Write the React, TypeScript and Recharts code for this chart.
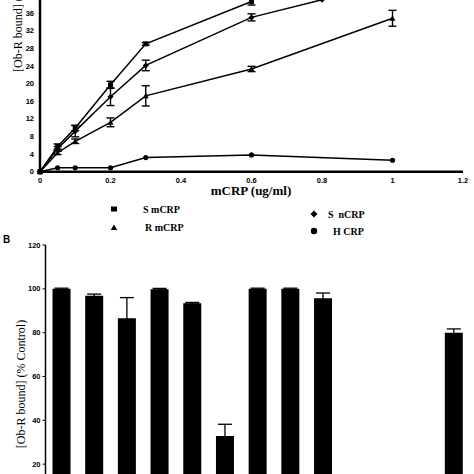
import React from "react";
import { LineChart, Line, XAxis, YAxis, ErrorBar, BarChart, Bar } from "recharts";

// panel A - Ob-R bound vs mCRP dose
const doseSM = [0, 0.05, 0.1, 0.2, 0.3, 0.6];
const boundSM = [0, 5.7, 9.9, 19.7, 29.0, 38.6];
const errSM = [0, 0.6, 0.6, 0.8, 0.3, 0.8];

const doseSN = [0, 0.05, 0.1, 0.2, 0.3, 0.6, 0.8];
const boundSN = [0, 5.2, 9.2, 17.0, 24.1, 35.0, 39.0];
const errSN = [0, 0.5, 1.3, 2.0, 1.2, 0.8, 0];

const doseRM = [0, 0.05, 0.1, 0.2, 0.3, 0.6, 1];
const boundRM = [0, 4.3, 6.9, 11.2, 17.2, 23.3, 34.8];
const errRM = [0, 0.4, 0.5, 1.0, 2.3, 0.6, 1.8];

const doseH = [0, 0.05, 0.1, 0.2, 0.3, 0.6, 1];
const boundH = [0, 0.9, 0.9, 0.9, 3.2, 3.8, 2.6];

const xTicksA = [0, 0.2, 0.4, 0.6, 0.8, 1, 1.2];
const yTicksA = [0, 4, 8, 12, 16, 20, 24, 28, 32, 36, 40, 44];

// panel B - % control
const groups = ["1", "2", "3", "4", "5", "6", "7", "8", "9", "10", "11", "12", "13"];
const pctControl = [100, 96.9, 86.6, 99.8, 93.4, 32.9, 100, 100, 95.7, 0, 0, 0, 80];
const pctErr = [0.3, 0.7, 9.4, 0.4, 0.4, 5.3, 0.3, 0.3, 2.4, 0, 0, 0, 1.7];
const yTicksB = [0, 20, 40, 60, 80, 100, 120];

const rows = (xs: number[], ys: number[], es?: number[]) =>
  xs.map((x, i) => ({ x, y: ys[i], e: es ? es[i] : 0 }));

const barRows = groups.map((g, i) => ({ group: g, pct: pctControl[i], err: pctErr[i] }));

const tickFont = {
  fontFamily: "Liberation Sans, Arial, sans-serif",
  fontSize: 7.5,
  fontWeight: "bold",
  fill: "#000",
};

const serif = "Liberation Serif, Times New Roman, serif";

const Square = (p: any) => (
  <rect key={`s${p.index}`} x={p.cx - 2.5} y={p.cy - 2.5} width={5} height={5} fill="#000" />
);
const Diamond = (p: any) => (
  <polygon
    key={`d${p.index}`}
    points={`${p.cx},${p.cy - 3} ${p.cx + 3},${p.cy} ${p.cx},${p.cy + 3} ${p.cx - 3},${p.cy}`}
    fill="#000"
  />
);
const Triangle = (p: any) => (
  <polygon
    key={`t${p.index}`}
    points={`${p.cx},${p.cy - 3} ${p.cx + 3},${p.cy + 2.5} ${p.cx - 3},${p.cy + 2.5}`}
    fill="#000"
  />
);
const Circle = (p: any) => <circle key={`c${p.index}`} cx={p.cx} cy={p.cy} r={2.6} fill="#000" />;

function PanelA() {
  return (
    <LineChart width={474} height={240} margin={{ top: 7.7, right: 11, left: 10, bottom: 8.3 }}>
      <XAxis
        type="number"
        dataKey="x"
        domain={[0, 1.2]}
        ticks={xTicksA}
        tickLine={false}
        tickSize={4}
        tickMargin={2}
        height={30}
        tick={tickFont}
        axisLine={{ stroke: "#000", strokeWidth: 2.5 }}
        label={{
          content: () => (
            <text x={251} y={224.5} textAnchor="middle" fontFamily={serif} fontSize={13} fontWeight="bold" fill="#000">
              mCRP (ug/ml)
            </text>
          ),
        }}
      />
      <YAxis
        type="number"
        domain={[0, 44]}
        ticks={yTicksA}
        width={30}
        tickLine={false}
        tickSize={4}
        tickMargin={2}
        tick={tickFont}
        axisLine={{ stroke: "#000", strokeWidth: 2.5 }}
        label={{
          content: () => (
            <text x={22} y={102} transform="rotate(-90 22 102)" fontFamily={serif} fontSize={12} fill="#000">
              [Ob-R bound] (fmol)
            </text>
          ),
        }}
      />
      <Line data={rows(doseSM, boundSM, errSM)} dataKey="y" stroke="#000" strokeWidth={1.5} dot={Square} isAnimationActive={false}>
        <ErrorBar dataKey="e" direction="y" width={4} stroke="#000" strokeWidth={1.4} />
      </Line>
      <Line data={rows(doseSN, boundSN, errSN)} dataKey="y" stroke="#000" strokeWidth={1.5} dot={Diamond} isAnimationActive={false}>
        <ErrorBar dataKey="e" direction="y" width={4} stroke="#000" strokeWidth={1.4} />
      </Line>
      <Line data={rows(doseRM, boundRM, errRM)} dataKey="y" stroke="#000" strokeWidth={1.5} dot={Triangle} isAnimationActive={false}>
        <ErrorBar dataKey="e" direction="y" width={4} stroke="#000" strokeWidth={1.4} />
      </Line>
      <Line data={rows(doseH, boundH)} dataKey="y" stroke="#000" strokeWidth={1.5} dot={Circle} isAnimationActive={false} />
    </LineChart>
  );
}

function LegendA() {
  const txt = { fontFamily: serif, fontSize: 10, fontWeight: "bold" as const, fill: "#000" };
  return (
    <svg width={474} height={474} style={{ position: "absolute", top: 0, left: 0, pointerEvents: "none" }}>
      <rect x={111} y={206.5} width={6} height={5} fill="#000" />
      <text x={143} y={213} {...txt}>S mCRP</text>
      <polygon points="114,224.5 117.3,230 110.7,230" fill="#000" />
      <text x={145} y={231} {...txt}>R mCRP</text>
      <polygon points="314,210.5 317.5,214 314,217.5 310.5,214" fill="#000" />
      <text x={328} y={217.5} {...txt} style={{ whiteSpace: "pre" }}>S  nCRP</text>
      <circle cx={314} cy={231} r={3.2} fill="#000" />
      <text x={333} y={234.5} {...txt}>H CRP</text>
      <text x={3} y={243} fontFamily="Liberation Sans, Arial, sans-serif" fontSize={10} fontWeight="bold" fill="#000">
        B
      </text>
    </svg>
  );
}

function PanelB() {
  return (
    <BarChart width={474} height={300} data={barRows} margin={{ top: 5, right: 3.5, left: 5.5, bottom: 32 }}>
      <XAxis dataKey="group" hide />
      <YAxis
        type="number"
        domain={[0, 120]}
        ticks={yTicksB}
        width={40}
        tickSize={3}
        tickMargin={2}
        tick={tickFont}
        tickLine={{ stroke: "#000", strokeWidth: 1 }}
        axisLine={{ stroke: "#000", strokeWidth: 1.5 }}
        label={{
          content: () => (
            <text x={25} y={144} transform="rotate(-90 25 144)" textAnchor="middle" fontFamily={serif} fontSize={12} fill="#000">
              [Ob-R bound] (% Control)
            </text>
          ),
        }}
      />
      <Bar dataKey="pct" fill="#000" barSize={18} isAnimationActive={false}>
        <ErrorBar dataKey="err" direction="y" width={7} stroke="#000" strokeWidth={1.3} />
      </Bar>
    </BarChart>
  );
}

export default function App() {
  return (
    <div style={{ position: "fixed", top: 0, left: 0, width: 474, height: 474, overflow: "hidden", background: "#fff" }}>
      <div style={{ position: "absolute", top: -30, left: 0 }}>
        <PanelA />
      </div>
      <div style={{ position: "absolute", top: 240, left: 0 }}>
        <PanelB />
      </div>
      <LegendA />
    </div>
  );
}
